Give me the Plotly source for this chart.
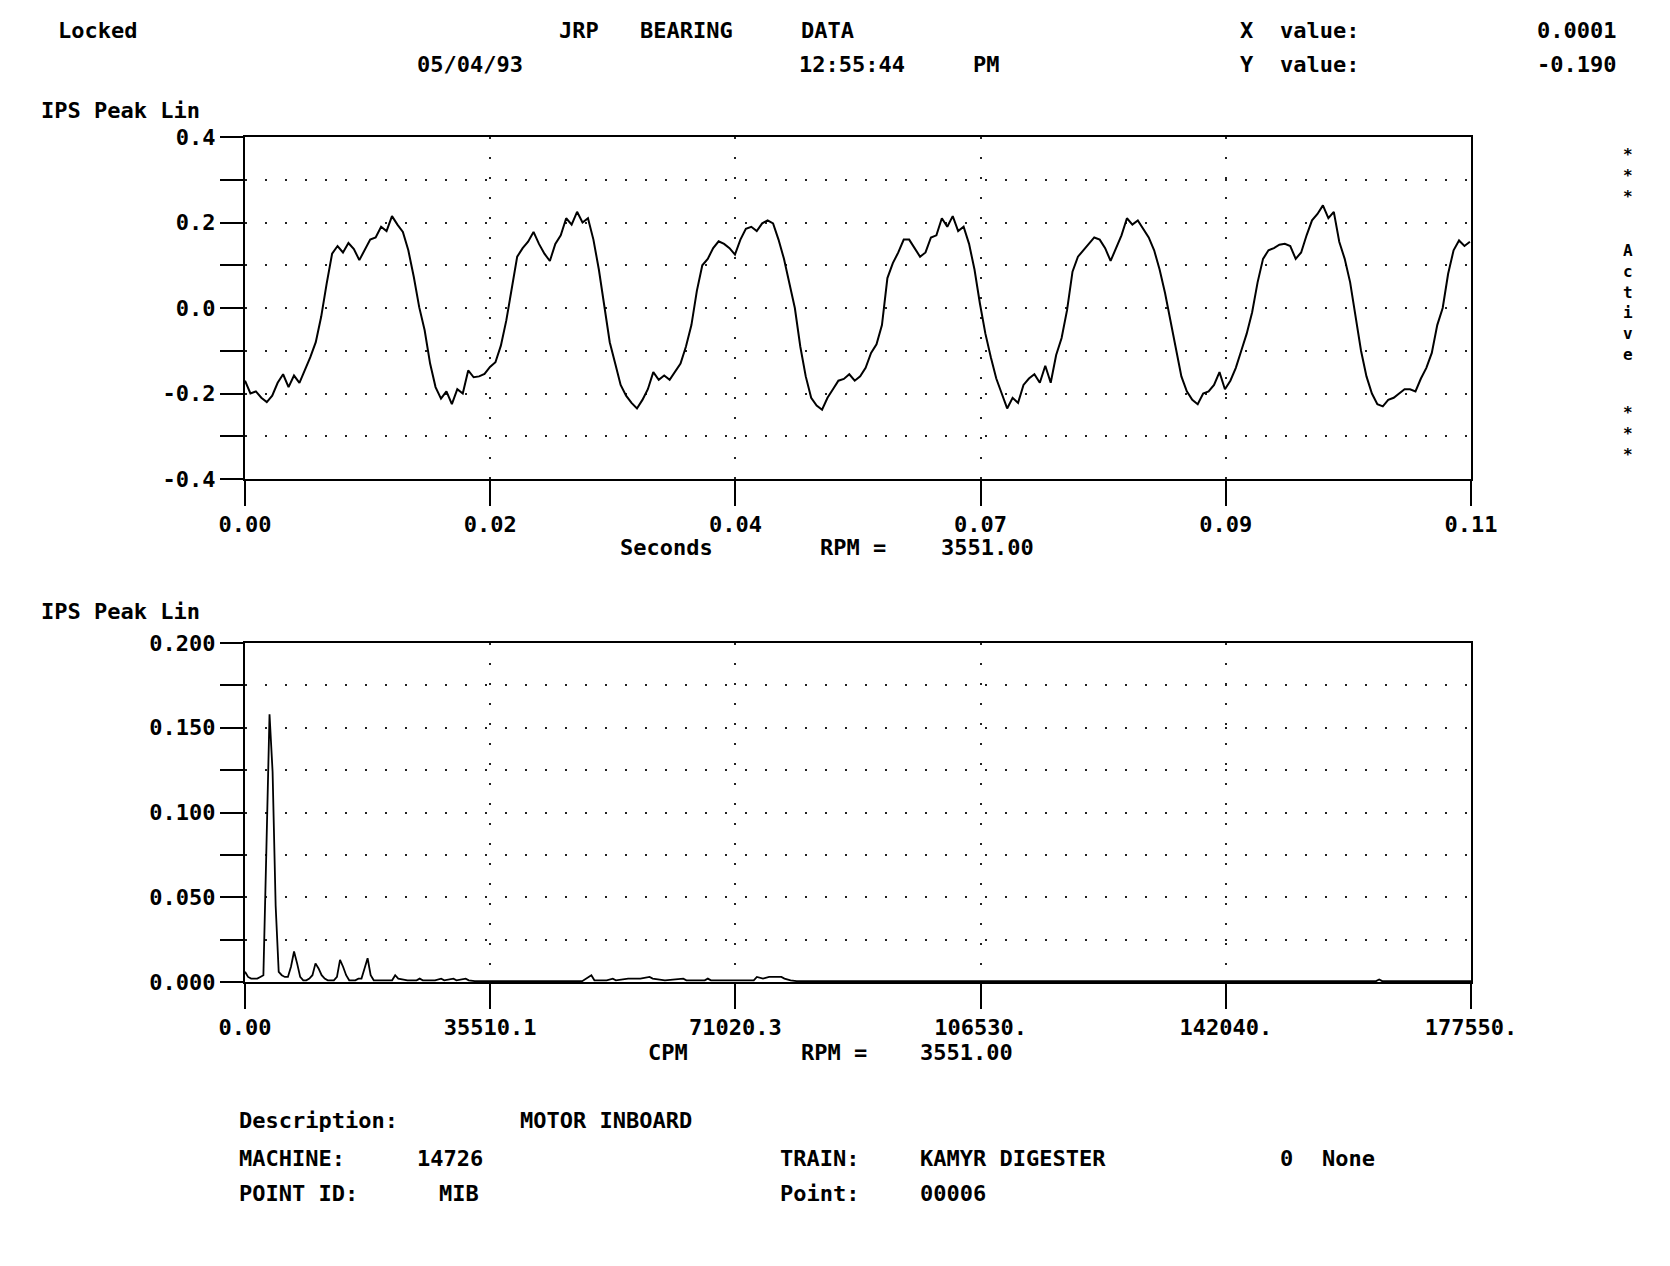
import numpy as np
import plotly.graph_objects as go

W, H = 1670, 1266

# time waveform, IPS peak, sampled every 0.5 ms
wave_dt = 0.0005
wave_ips = [
    -0.17, -0.20, -0.195, -0.21, -0.22, -0.205, -0.175, -0.155, -0.185, -0.158,
    -0.175, -0.146, -0.115, -0.08, -0.02, 0.057, 0.127, 0.145, 0.13, 0.152,
    0.138, 0.112, 0.135, 0.16, 0.165, 0.19, 0.18, 0.215, 0.195, 0.178,
    0.135, 0.073, 0.002, -0.052, -0.13, -0.185, -0.212, -0.195, -0.225, -0.19,
    -0.2, -0.146, -0.162, -0.16, -0.154, -0.138, -0.127, -0.088, -0.029, 0.041,
    0.12, 0.14, 0.155, 0.178, 0.15, 0.127, 0.11, 0.15, 0.17, 0.21,
    0.195, 0.225, 0.2, 0.21, 0.16, 0.09, 0.0, -0.08, -0.13, -0.18,
    -0.205, -0.222, -0.235, -0.215, -0.19, -0.15, -0.168, -0.158, -0.168, -0.15,
    -0.13, -0.09, -0.04, 0.04, 0.1, 0.115, 0.14, 0.156, 0.15, 0.14,
    0.125, 0.16, 0.185, 0.19, 0.18, 0.198, 0.205, 0.198, 0.16, 0.115,
    0.06, 0.0, -0.09, -0.16, -0.21, -0.228, -0.238, -0.21, -0.19, -0.17,
    -0.166, -0.155, -0.17, -0.16, -0.14, -0.105, -0.085, -0.04, 0.07, 0.105,
    0.13, 0.16, 0.16, 0.14, 0.12, 0.13, 0.165, 0.17, 0.21, 0.19,
    0.215, 0.18, 0.19, 0.15, 0.09, 0.01, -0.06, -0.115, -0.165, -0.2,
    -0.235, -0.21, -0.222, -0.18, -0.165, -0.155, -0.175, -0.135, -0.175, -0.11,
    -0.07, -0.005, 0.085, 0.12, 0.135, 0.15, 0.165, 0.16, 0.14, 0.11,
    0.14, 0.17, 0.21, 0.195, 0.205, 0.185, 0.165, 0.135, 0.09, 0.035,
    -0.03, -0.1, -0.16, -0.195, -0.215, -0.225, -0.2, -0.195, -0.18, -0.15,
    -0.19, -0.17, -0.14, -0.1, -0.06, -0.01, 0.06, 0.115, 0.135, 0.14,
    0.148, 0.15, 0.145, 0.115, 0.13, 0.17, 0.205, 0.22, 0.24, 0.21,
    0.225, 0.155, 0.115, 0.06, -0.02, -0.1, -0.16, -0.2, -0.225, -0.23,
    -0.215, -0.21, -0.2, -0.19, -0.19, -0.195, -0.165, -0.14, -0.105, -0.04,
    0.0, 0.08, 0.135, 0.158, 0.145, 0.155,
]
wave_t = np.arange(len(wave_ips)) * wave_dt

# spectrum
spec_cpm = [
    0, 444, 888, 1332, 1776, 2219, 2663, 3107, 3551, 3995, 4439, 4882, 5326, 5770,
    6214, 6658, 7102, 7546, 7990, 8434, 8878, 9322, 9766, 10209, 10653, 11097,
    11541, 11985, 12429, 12873, 13317, 13761, 14204, 14648, 15092, 15536, 15980,
    16424, 16868, 17311, 17755, 18199, 18643, 19087, 20418, 21306, 21750, 22194,
    23525, 24857, 25301, 25745, 27520, 28408, 28852, 30183, 30627, 31959, 32403,
    33290, 48826, 50158, 50602, 52378, 53266, 53710, 55485, 57261, 58592, 59036,
    60812, 63475, 63919, 66583, 67027, 67471, 73685, 74129, 75017, 75905, 77680,
    78124, 79012, 79900, 163802, 164246, 164690, 177550,
]
spec_ips = [
    0.006, 0.003, 0.002, 0.002, 0.002, 0.003, 0.004, 0.080, 0.158, 0.124, 0.045, 0.006, 0.004, 0.003,
    0.003, 0.009, 0.018, 0.011, 0.003, 0.001, 0.001, 0.002, 0.004, 0.011, 0.008, 0.004,
    0.002, 0.001, 0.001, 0.001, 0.003, 0.013, 0.009, 0.004, 0.001, 0.001, 0.001,
    0.002, 0.002, 0.008, 0.014, 0.004, 0.001, 0.001, 0.001, 0.001, 0.004, 0.002,
    0.001, 0.001, 0.002, 0.001, 0.001, 0.002, 0.001, 0.002, 0.001, 0.002, 0.001,
    0.0005, 0.0005, 0.004, 0.001, 0.001, 0.002, 0.001, 0.002, 0.002, 0.003, 0.002,
    0.001, 0.002, 0.001, 0.001, 0.002, 0.001, 0.001, 0.003, 0.002, 0.003, 0.003,
    0.002, 0.001, 0.0005, 0.0005, 0.0015, 0.0005, 0.0005,
]

wave_ticks = [0, 0.02252, 0.04504, 0.06756, 0.09008, 0.1126]
wave_ticktext = ["0.00", "0.02", "0.04", "0.07", "0.09", "0.11"]
wave_yticks = [0.4, 0.2, 0.0, -0.2, -0.4]
wave_yticktext = ["0.4", "0.2", "0.0", "-0.2", "-0.4"]

spec_ticks = [0, 35510.1, 71020.3, 106530, 142040, 177550]
spec_ticktext = ["0.00", "35510.1", "71020.3", "106530.", "142040.", "177550."]
spec_yticks = [0.2, 0.15, 0.1, 0.05, 0.0]
spec_yticktext = ["0.200", "0.150", "0.100", "0.050", "0.000"]

FAM = "DejaVu Sans Mono"
FS = 22
FONT = dict(family=FAM, size=FS, color="black", weight="bold")
GRID = dict(showgrid=True, gridcolor="#222222", gridwidth=2, griddash="2px,18px")


def px_x(v):
    return v / W


def px_y(v):
    return 1 - v / H


fig = go.Figure()
fig.add_trace(go.Scatter(x=wave_t, y=wave_ips, mode="lines",
                         line=dict(color="black", width=2), xaxis="x", yaxis="y"))
fig.add_trace(go.Scatter(x=spec_cpm, y=spec_ips, mode="lines",
                         line=dict(color="black", width=1.8), xaxis="x2", yaxis="y2"))

axis_common = dict(showline=True, linecolor="black", linewidth=2, mirror=True,
                   zeroline=False, ticks="outside", tickwidth=2, tickcolor="black",
                   tickfont=FONT, tickmode="array", automargin=False, **GRID)

xdom = [px_x(245), px_x(1471)]
fig.update_layout(
    xaxis=dict(domain=xdom, anchor="y", range=[0, 0.1126], tickvals=wave_ticks,
               ticktext=wave_ticktext, ticklen=25, **axis_common),
    yaxis=dict(domain=[px_y(479), px_y(137)], anchor="x", range=[-0.4, 0.4],
               tickvals=wave_yticks, ticktext=wave_yticktext, ticklen=23,
               minor=dict(tickmode="array", tickvals=[0.3, 0.1, -0.1, -0.3], ticks="outside",
                          ticklen=23, tickwidth=2, tickcolor="black", **GRID),
               **axis_common),
    xaxis2=dict(domain=xdom, anchor="y2", range=[0, 177550], tickvals=spec_ticks,
                ticktext=spec_ticktext, ticklen=25, **axis_common),
    yaxis2=dict(domain=[px_y(982), px_y(643)], anchor="x2", range=[0, 0.2],
                tickvals=spec_yticks, ticktext=spec_yticktext, ticklen=23,
                minor=dict(tickmode="array", tickvals=[0.175, 0.125, 0.075, 0.025], ticks="outside",
                           ticklen=23, tickwidth=2, tickcolor="black", **GRID),
                **axis_common),
    autosize=True, margin=dict(l=0, r=0, t=0, b=0),
    plot_bgcolor="white", paper_bgcolor="white", showlegend=False,
)


def label(s, x, y, anchor="left", size=FS):
    fig.add_annotation(text=s, x=px_x(x), y=px_y(y), xref="paper", yref="paper",
                       xanchor=anchor, yanchor="middle", showarrow=False,
                       font=dict(family=FAM, size=size, color="black", weight="bold"))


# header
label("Locked", 56, 30)
label("JRP", 557, 30)
label("BEARING", 638, 30)
label("DATA", 799, 30)
label("X", 1238, 30)
label("value:", 1278, 30)
label("0.0001", 1618, 30, "right")
label("05/04/93", 415, 64)
label("12:55:44", 797, 64)
label("PM", 971, 64)
label("Y", 1238, 64)
label("value:", 1278, 64)
label("-0.190", 1618, 64, "right")

# top plot labels
label("IPS Peak Lin", 39, 110)
label("Seconds", 666, 548, "center")
label("RPM =", 818, 548)
label("3551.00", 939, 548)

# side status
label("*<br>*<br>*", 1628, 175, "center", 16)
label("A<br>c<br>t<br>i<br>v<br>e", 1628, 302, "center", 16)
label("*<br>*<br>*", 1628, 433, "center", 16)

# bottom plot labels
label("IPS Peak Lin", 39, 611)
label("CPM", 668, 1052, "center")
label("RPM =", 799, 1052)
label("3551.00", 918, 1052)

# footer
label("Description:", 237, 1120)
label("MOTOR INBOARD", 518, 1120)
label("MACHINE:", 237, 1158)
label("14726", 415, 1158)
label("POINT ID:", 237, 1193)
label("MIB", 437, 1193)
label("TRAIN:", 778, 1158)
label("KAMYR DIGESTER", 918, 1158)
label("0", 1278, 1158)
label("None", 1320, 1158)
label("Point:", 778, 1193)
label("00006", 918, 1193)

fig.write_html(
    "out.html",
    config={"displayModeBar": False},
    default_width="100vw",
    default_height="100vh",
    post_script=(
        "document.body.style.margin='0';"
        "document.documentElement.style.overflow='hidden';"
        "document.body.style.overflow='hidden';"
        "Plotly.Plots.resize(document.getElementById('{plot_id}'));"
    ),
)
